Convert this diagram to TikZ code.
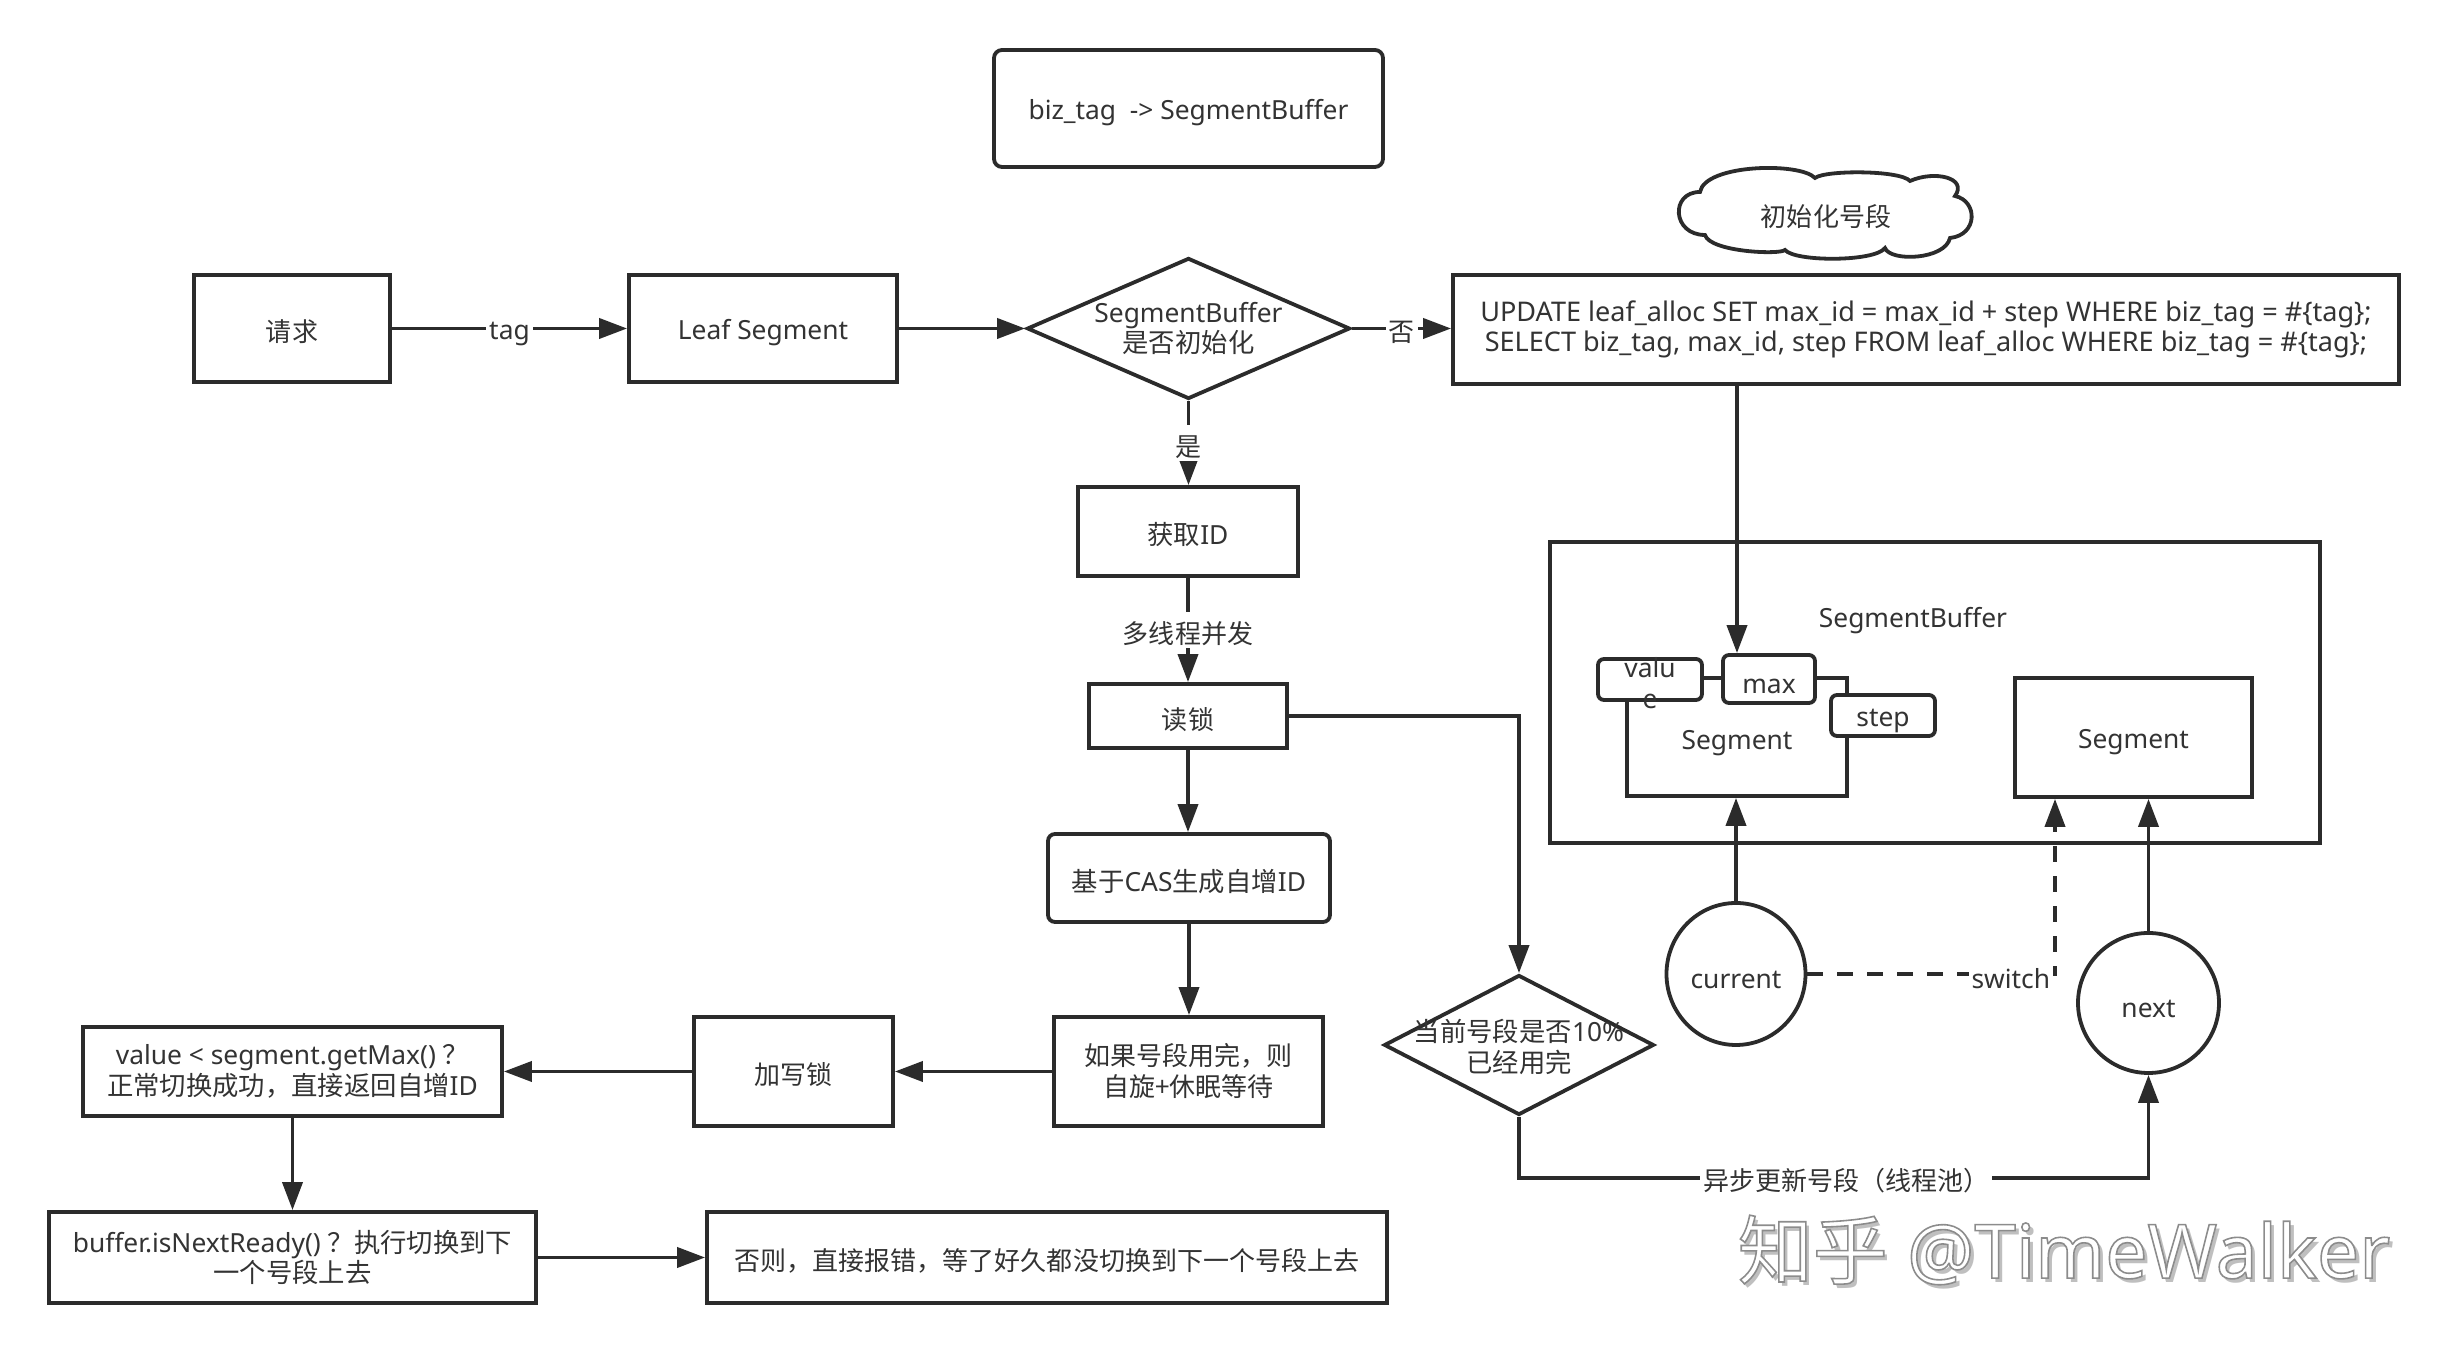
\documentclass[tikz,border=0pt]{standalone}
\usepackage{fontspec}
\setmainfont{Noto Sans}
\newfontfamily\cjkfont{Noto Sans CJK SC}
\usetikzlibrary{arrows.meta,shapes.geometric}
\newcommand\myfs{\fontsize{7.5pt}{8.8pt}\selectfont}
\newcommand\mycjk{\cjkfont\fontsize{7.4pt}{8.8pt}\selectfont}
\definecolor{lc}{HTML}{2B2B2B}
\definecolor{tc}{HTML}{333333}
\tikzset{
  lower/.style={execute at begin node={\rule{0pt}{1.1em}}},
  line/.style={draw=lc, line width=0.38mm},
  box/.style={line, rectangle, fill=white, inner sep=0, align=center, text=tc, font=\myfs, lower},
  smallbox/.style={line, rectangle, rounded corners=0.6mm, fill=white, inner sep=0},
  arr/.style={line, -{Triangle[length=2.8mm,width=2mm]}},
  lbl/.style={fill=white, inner sep=0.3mm, text=tc, font=\myfs, lower},
  txt/.style={text=tc, font=\myfs, align=center, inner sep=0, lower},
  wmk/.style={font=\fontsize{21.3pt}{22pt}\selectfont, inner sep=0},
}
\begin{document}
\begin{tikzpicture}[x=0.1mm,y=-0.1mm]
\path[use as bounding box, fill=white] (0,0) rectangle (2447,1351);

% SegmentBuffer container
\node[line, rectangle, minimum width=77mm, minimum height=30.1mm, inner sep=0] (sbuf) at (1935,692.5) {};
\node[txt] (sbuflbl) at (1913,616) {SegmentBuffer};

% top nodes
\node[box, rounded corners=0.8mm, minimum width=38.9mm, minimum height=11.7mm] (top) at (1188.5,108.5) {biz\_tag\ \ -> SegmentBuffer};

% cloud outline
\draw[line, fill=white] (1700,192)
  .. controls (1705,164) and (1800,162) .. (1815,178)
  .. controls (1825,170) and (1900,170) .. (1910,181)
  .. controls (1935,170) and (1968,178) .. (1955,196)
  .. controls (1978,201) and (1978,235) .. (1950,238)
  .. controls (1945,260) and (1890,262) .. (1885,248)
  .. controls (1875,262) and (1795,262) .. (1785,250)
  .. controls (1780,255) and (1710,252) .. (1705,235)
  .. controls (1672,235) and (1670,192) .. cycle;
\node[txt, font=\mycjk] (cloud) at (1826,213) {初始化号段};

\node[box, font=\mycjk, minimum width=19.6mm, minimum height=10.7mm] (req) at (292,328.5) {请求};
\node[box, minimum width=26.8mm, minimum height=10.7mm] (leaf) at (763,328.5) {Leaf Segment};
\node[diamond, line, fill=white, minimum width=32.3mm, minimum height=14.1mm, inner sep=0] (d1) at (1188.5,328.5) {};
\node[txt] (d1t) at (d1) {SegmentBuffer\\{\cjkfont 是否初始化}};
\node[box, font=\fontsize{7.7pt}{8.4pt}\selectfont, minimum width=94.6mm, minimum height=10.9mm] (upd) at (1926,329.5)
  {UPDATE leaf\_alloc SET max\_id = max\_id + step WHERE biz\_tag = \#\{tag\};\\SELECT biz\_tag, max\_id, step FROM leaf\_alloc WHERE biz\_tag = \#\{tag\};};

% main column
\node[box, minimum width=22mm, minimum height=8.9mm] (getid) at (1188,531.5) {{\cjkfont 获取}ID};
\node[box, font=\mycjk, minimum width=19.8mm, minimum height=6.4mm] (lock) at (1188,716) {读锁};
\node[box, rounded corners=0.7mm, minimum width=28.2mm, minimum height=8.8mm] (cas) at (1189,878) {{\cjkfont 基于}CAS{\cjkfont 生成自增}ID};
\node[box, font=\mycjk, minimum width=26.9mm, minimum height=10.9mm] (used) at (1188.5,1071.5) {如果号段用完，则\\自旋+休眠等待};
\node[box, font=\mycjk, minimum width=19.9mm, minimum height=10.9mm] (wlock) at (793.5,1071.5) {加写锁};
\node[box, minimum width=41.9mm, minimum height=8.9mm] (valbox) at (292.5,1071.5) {value < segment.getMax() {\cjkfont ？}\\{\cjkfont 正常切换成功，直接返回自增}ID};
\node[box, minimum width=48.7mm, minimum height=9.1mm] (bufbox) at (292.5,1257.5) {buffer.isNextReady() {\cjkfont ？执行切换到下}\\{\cjkfont 一个号段上去}};
\node[box, font=\mycjk, minimum width=68mm, minimum height=9.1mm] (elsebox) at (1047,1257.5) {否则，直接报错，等了好久都没切换到下一个号段上去};

\node[diamond, line, fill=white, minimum width=27mm, minimum height=14mm, inner sep=0] (d2) at (1519,1045) {};
\node[txt] (d2t) at (1519,1047) {{\cjkfont 当前号段是否}10\%\\{\cjkfont 已经用完}};

% segments
\node[line, rectangle, fill=white, minimum width=22mm, minimum height=11.8mm, inner sep=0] (seg1) at (1737,737) {};
\node[txt] (seg1t) at (1737,738) {Segment};
\node[smallbox, minimum width=10.4mm, minimum height=4.1mm] (valuebox) at (1650,679.5) {};
\node[txt] (valuet) at (1650,683) {valu\\e};
\node[smallbox, minimum width=9.2mm, minimum height=4.8mm] (maxbox) at (1769,679) {};
\node[txt] (maxt) at (maxbox) {max};
\node[smallbox, minimum width=10.4mm, minimum height=4.1mm] (stepbox) at (1883,715.5) {};
\node[txt] (stept) at (stepbox) {step};
\node[box, minimum width=23.7mm, minimum height=11.9mm] (seg2) at (2133.5,737.5) {Segment};

\node[line, ellipse, fill=white, minimum width=13.9mm, minimum height=14.2mm, inner sep=0, text=tc, font=\myfs, lower] (cur) at (1736,974) {current};
\node[line, ellipse, fill=white, minimum width=14.1mm, minimum height=14mm, inner sep=0, text=tc, font=\myfs, lower] (next) at (2148.5,1003) {next};

% connectors
\draw[arr] (req) -- node[lbl]{tag} (leaf);
\draw[arr] (leaf) -- (d1);
\draw[arr] (d1.east) -- node[lbl, font=\mycjk]{否} (d1.east -| upd.west);
\draw[arr] (d1.south) -- node[lbl, font=\mycjk]{是} (d1.south |- getid.north);
\draw[arr] (getid) -- node[lbl, font=\mycjk]{多线程并发} (lock);
\draw[arr] (lock.south) -- (lock.south |- cas.north);
\draw[arr] (cas.south) -- (cas.south |- used.north);
\draw[arr] (used) -- (wlock);
\draw[arr] (wlock) -- (valbox);
\draw[arr] (valbox) -- (bufbox);
\draw[arr] (bufbox) -- (elsebox);
\draw[arr] (lock.east) -| (d2.north);
\draw[arr] (d2.south) -- ++(0,61) -| node[lbl, pos=0.26, font=\mycjk]{异步更新号段（线程池）} (next.south);
\draw[arr] (upd.south -| seg1.north) -- (seg1.north |- maxbox.north);
\draw[arr] (cur.north) -- (cur.north |- seg1.south);
\draw[arr] (next.north) -- (next.north |- seg2.south);
\coordinate (sw) at (2055,974);
\draw[arr, dash pattern=on 1.6mm off 1.4mm] (cur.east) -- node[lbl, pos=1, anchor=east]{switch} (sw) -- (sw |- seg2.south);

% watermark: outlined white letters over a gray shadow
\node[wmk, text=gray!50] (wmshadow) at (2068,1254) {{\cjkfont 知乎} @TimeWalker};
\node[wmk] (wm) at (2064,1250) {\special{pdf:literal direct 1 1 1 rg 0.55 0.55 0.55 RG 0.45 w 2 Tr}{\cjkfont 知乎} @TimeWalker\special{pdf:literal direct 0 Tr}};
\end{tikzpicture}
\end{document}
